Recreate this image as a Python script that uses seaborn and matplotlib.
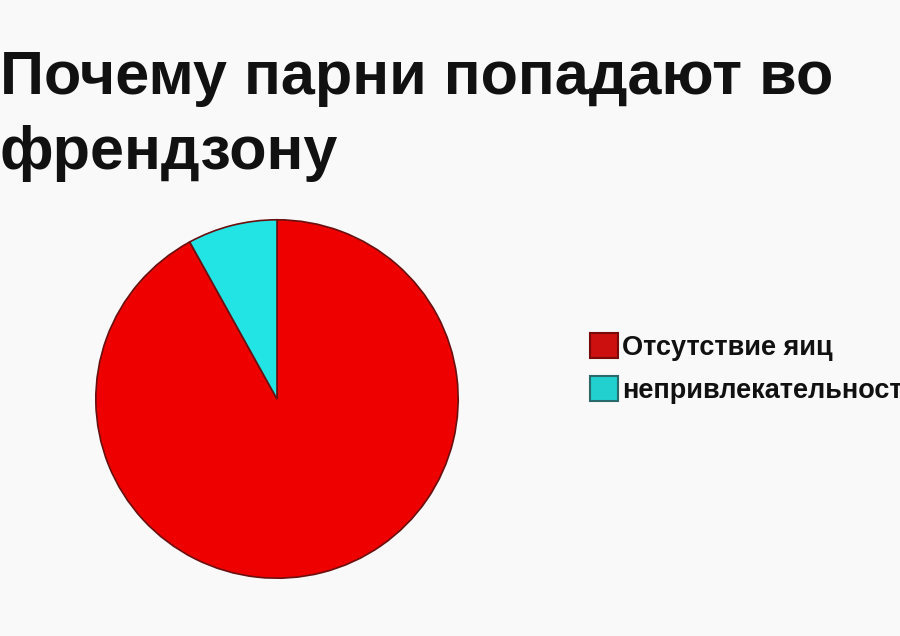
import matplotlib.pyplot as plt
import seaborn as sns
from matplotlib.patches import Patch

title = "Почему парни попадают во\nфрендзону"
labels = ["Отсутствие яиц", "непривлекательность"]
shares = [92, 8]
colors = ["#ee0000", "#22e4e4"]
edge_colors = ["#7a0a0a", "#2a6a6a"]

sns.set_theme(style="white")
plt.rcParams["font.family"] = ["Liberation Sans", "DejaVu Sans"]

fig = plt.figure(figsize=(9, 6.36), dpi=100)
fig.patch.set_facecolor("#f9f9f9")

ax = fig.add_axes([94 / 900, 56 / 636, 366 / 900, 362 / 636])
wedges, _ = ax.pie(shares, colors=colors, startangle=90, counterclock=False,
                   wedgeprops=dict(edgecolor="#6a1010", linewidth=1.2))
ax.set_xlim(-1.01, 1.01)
ax.set_ylim(-1.01, 1.01)
ax.set_aspect("auto")
ax.axis("off")

fig.text(0.0, 1 - 50 / 636, title, fontsize=44, fontweight="bold",
         color="#111111", ha="left", va="top", linespacing=1.4)

handles = [Patch(facecolor=c, edgecolor=e, linewidth=1.5) for c, e in zip(["#cc1010", "#22d0d0"], edge_colors)]
leg = fig.legend(handles, labels, loc="upper left", bbox_to_anchor=(590 / 900, 1 - 333 / 636),
                 fontsize=19.5, frameon=False, handlelength=1.05, handleheight=1.05,
                 handletextpad=0.15, labelspacing=0.55, borderaxespad=0, borderpad=0)
for t in leg.get_texts():
    t.set_fontweight("bold")
    t.set_color("#111111")

fig.savefig("out.png", dpi=100, facecolor=fig.get_facecolor())
